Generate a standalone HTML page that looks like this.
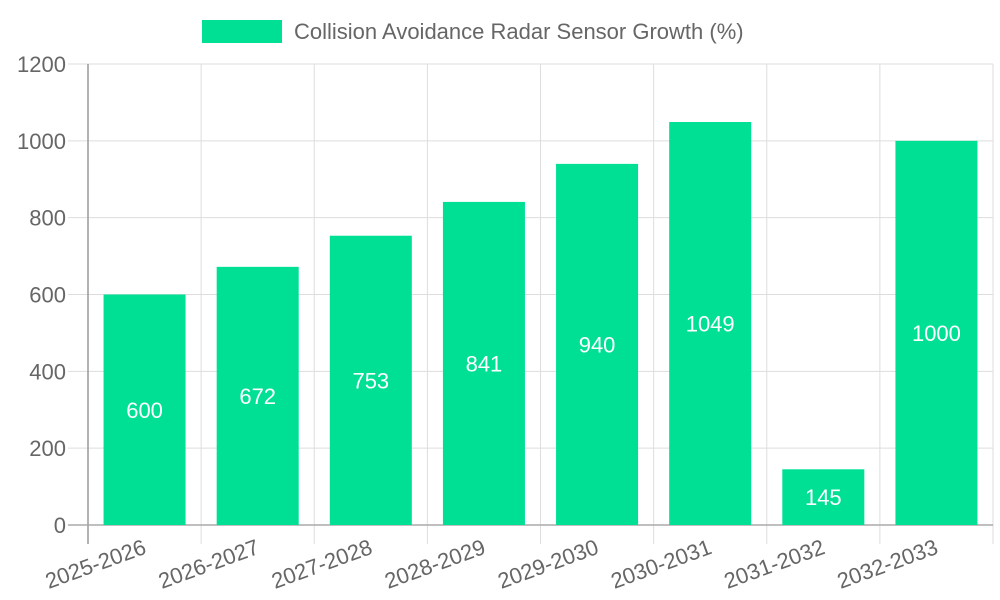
<!DOCTYPE html>
<html><head><meta charset="utf-8"><style>
body{margin:0;background:#fff}
svg{display:block;font-family:"Liberation Sans",sans-serif}
</style></head><body>
<svg id="chart" width="1000" height="600"></svg>
<script>
const categories=["2025-2026","2026-2027","2027-2028","2028-2029","2029-2030","2030-2031","2031-2032","2032-2033"];
const values=[600,672,753,841,940,1049,145,1000];
const yTicks=[0,200,400,600,800,1000,1200];
const seriesName="Collision Avoidance Radar Sensor Growth (%)";
const NS="http://www.w3.org/2000/svg";
const svg=document.getElementById('chart');
const L=88,R=993,T=64,B=525,yMax=1200;
const band=(R-L)/categories.length;
const y=v=>B-(v/yMax)*(B-T);
const x=i=>L+i*band;
function mk(tag,attrs,parent){const e=document.createElementNS(NS,tag);for(const k in attrs)e.setAttribute(k,attrs[k]);(parent||svg).appendChild(e);return e;}
// legend
const lg=mk('g',{});


const lr=mk('rect',{x:202,y:20,width:80,height:23,fill:'#00e095'},lg);


const lt=mk('text',{x:294,y:39,'font-size':22,fill:'#666'},lg);


lt.textContent=seriesName;
// grid
yTicks.forEach(t=>{
 const gl=mk('line',{x1:68,x2:R,y1:y(t),y2:y(t),stroke:t===0?'#bbb':'#ddd','stroke-width':1});
 
 
 const tl=mk('text',{x:66,y:y(t)+8,'text-anchor':'end','font-size':22,fill:'#666'});
 
 
 tl.textContent=t;
});
for(let i=0;i<=categories.length;i++){
 const vl=mk('line',{x1:x(i),x2:x(i),y1:T,y2:544,stroke:i===0?'#aaa':'#ddd','stroke-width':1});
 
 
}
const ax=mk('line',{x1:L,x2:L,y1:T,y2:544,stroke:'#999','stroke-width':1.5});


const bx=mk('line',{x1:68,x2:R,y1:B,y2:B,stroke:'#aaa','stroke-width':1.5});


// bars
const bw=band*0.725;
values.forEach((v,i)=>{
 const cx=x(i)+band/2;
 const r=mk('rect',{x:cx-bw/2,y:y(v),width:bw,height:B-y(v),fill:'#00e095'});
 
 
 const vt=mk('text',{x:cx,y:(y(v)+B)/2+8,'text-anchor':'middle','font-size':22,fill:'#fff'});
 
 
 vt.textContent=v;
 const xl=mk('text',{'text-anchor':'end','font-size':22,fill:'#666',transform:`translate(${cx+3},553) rotate(-20)`});
 
 
 xl.textContent=categories[i];
});
</script>
</body></html>
